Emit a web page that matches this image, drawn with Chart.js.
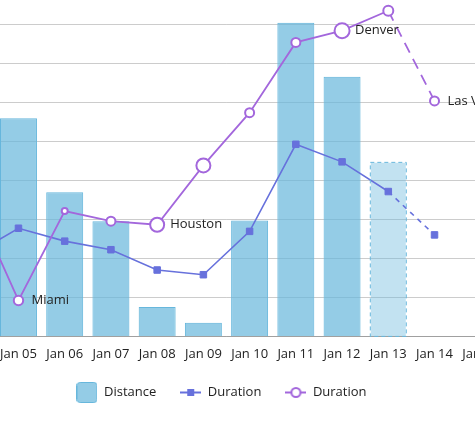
<!DOCTYPE html>
<html>
<head>
<meta charset="utf-8">
<script src="https://cdn.jsdelivr.net/npm/chart.js@4/dist/chart.umd.min.js"></script>
<style>
  html, body { margin: 0; padding: 0; background: #fff; overflow: hidden; }
  body { width: 475px; height: 439px; position: relative; }
  /* the plot is wider than the window, like a zoomed-in view */
  #wrap { position: absolute; left: -56px; top: -15px; width: 565px; height: 424px; }
</style>
</head>
<body>
<div id="wrap"><canvas id="chart"></canvas></div>
<script>
const labels = ["Jan 04", "Jan 05", "Jan 06", "Jan 07", "Jan 08", "Jan 09", "Jan 10", "Jan 11", "Jan 12", "Jan 13", "Jan 14", "Jan 15"];
const distance = [null, 559, 369, 295, 75, 35, 297, 803, 665, 447, null, null];
const duration = [208, 277, 244, 222, 170, 158, 269, 492, 447, 371, 260, null];
const latitude = [356, 92, 321, 295, 286, 438, 573, 753, 783, 834, 603, null];
const townName = ["", "Miami", "", "", "Houston", "", "", "", "Denver", "", "Las Vegas", ""];
const townSize = [5, 4.7, 3, 4.5, 7, 7, 4.5, 4.5, 7.5, 5, 4.5, null];
const forecastFrom = 9; // Jan 13 onwards is drawn faded / dashed

const FONT = "'Open Sans', 'Noto Sans', sans-serif";
const BLUE = "#6771dc";
const PURPLE = "#a367dc";
const BAR = "rgba(103,183,220,0.7)";
const BAR_LIGHT = "rgba(103,183,220,0.4)";
const BAR_EDGE = "#67b7dc";

function icon(w, h, draw) {
  const c = document.createElement("canvas");
  c.width = w; c.height = h;
  draw(c.getContext("2d"));
  return c;
}

const boxIcon = icon(21, 21, (g) => {
  g.beginPath();
  g.roundRect(0.5, 0.5, 20, 20, 3);
  g.fillStyle = BAR; g.fill();
  g.strokeStyle = BAR_EDGE; g.lineWidth = 1; g.stroke();
});
const rectIcon = icon(21, 9, (g) => {
  g.strokeStyle = BLUE; g.lineWidth = 2;
  g.beginPath(); g.moveTo(0, 4.5); g.lineTo(21, 4.5); g.stroke();
  g.fillStyle = BLUE; g.fillRect(7, 1, 7, 7);
});
const circleIcon = icon(21, 13, (g) => {
  g.strokeStyle = PURPLE; g.lineWidth = 2;
  g.beginPath(); g.moveTo(0, 6.5); g.lineTo(21, 6.5); g.stroke();
  g.beginPath(); g.arc(10.5, 6.5, 4.5, 0, Math.PI * 2);
  g.fillStyle = "#fff"; g.fill(); g.stroke();
});
const legendIcons = [boxIcon, rectIcon, circleIcon];

// town labels next to the purple bullets + dashed outline on the forecast bar
const extras = {
  id: "extras",
  afterLayout(chart) {
    // legend sits a little left of the canvas centre
    chart.legend.left -= 5;
    chart.legend.right -= 5;
  },
  afterDatasetsDraw(chart) {
    const ctx = chart.ctx;
    ctx.save();
    const bars = chart.getDatasetMeta(0).data;
    bars.forEach((b, i) => {
      if (i < forecastFrom || distance[i] == null) return;
      const p = b.getProps(["x", "y", "base", "width"], true);
      ctx.strokeStyle = BAR_EDGE;
      ctx.lineWidth = 1;
      ctx.setLineDash([4, 3]);
      ctx.strokeRect(p.x - p.width / 2 + 0.5, p.y + 0.5, p.width - 1, p.base - p.y);
    });
    ctx.setLineDash([]);
    ctx.font = "13px " + FONT;
    ctx.fillStyle = "#222";
    ctx.textBaseline = "middle";
    chart.getDatasetMeta(2).data.forEach((pt, i) => {
      if (!townName[i]) return;
      ctx.fillText(townName[i], pt.x + 13, pt.y);
    });
    ctx.restore();
  }
};

new Chart(document.getElementById("chart"), {
  data: {
    labels,
    datasets: [
      {
        type: "bar",
        label: "Distance",
        data: distance,
        order: 3,
        backgroundColor: labels.map((_, i) => (i >= forecastFrom ? BAR_LIGHT : BAR)),
        borderColor: labels.map((_, i) => (i >= forecastFrom ? "rgba(0,0,0,0)" : BAR_EDGE)),
        borderWidth: 1,
        categoryPercentage: 1,
        barPercentage: 0.8,
      },
      {
        type: "line",
        label: "Duration",
        data: duration,
        order: 2,
        borderColor: BLUE,
        borderWidth: 1.6,
        pointStyle: "rect",
        pointRadius: 4.6,
        pointBackgroundColor: BLUE,
        pointBorderColor: BLUE,
        pointBorderWidth: 1,
        segment: { borderDash: (c) => (c.p1DataIndex > forecastFrom ? [5, 5] : undefined) },
      },
      {
        type: "line",
        label: "Duration",
        data: latitude,
        order: 1,
        borderColor: PURPLE,
        borderWidth: 1.8,
        pointRadius: (c) => townSize[c.dataIndex] || 0,
        pointBackgroundColor: "#fff",
        pointBorderColor: PURPLE,
        pointBorderWidth: 2,
        segment: { borderDash: (c) => (c.p1DataIndex > forecastFrom ? [11, 7] : undefined) },
      },
    ],
  },
  options: {
    responsive: true,
    maintainAspectRatio: false,
    animation: false,
    layout: { padding: 0, autoPadding: false },
    plugins: {
      tooltip: { enabled: false },
      legend: {
        position: "bottom",
        labels: {
          usePointStyle: true,
          pointStyleWidth: 21,
          padding: 24,
          color: "#222",
          font: { family: FONT, size: 13 },
          sort: (a, b) => a.datasetIndex - b.datasetIndex,
          generateLabels(chart) {
            const items = Chart.defaults.plugins.legend.labels.generateLabels(chart);
            items.forEach((it) => { it.pointStyle = legendIcons[it.datasetIndex]; });
            return items;
          },
        },
      },
    },
    scales: {
      x: {
        grid: { display: false, drawTicks: false },
        border: { display: true, color: "rgba(0,0,0,0.22)" },
        ticks: { color: "#222", padding: 10, maxRotation: 0, autoSkip: false, font: { family: FONT, size: 13 } },
        afterFit(scale) { scale.height -= 10; },
      },
      y: {
        display: true,
        min: 0,
        max: 900,
        ticks: { display: false, stepSize: 100 },
        grid: { color: "rgba(0,0,0,0.2)", drawTicks: false },
        border: { display: false },
      },
    },
  },
  plugins: [extras],
});
</script>
</body>
</html>
